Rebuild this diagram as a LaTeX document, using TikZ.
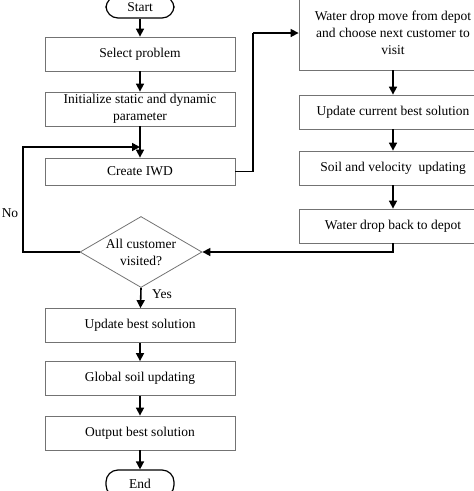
\documentclass[tikz,border=0pt]{standalone}
\usepackage{fontspec}
\setmainfont{Liberation Serif}
\usetikzlibrary{arrows.meta,shapes.geometric}
\begin{document}
\begin{tikzpicture}[x=1pt,y=-1pt,
  every node/.style={font=\fontsize{13.5}{17}\selectfont, inner sep=0pt},
  box/.style={draw=black!55, line width=0.8pt, minimum width=190pt, minimum height=34pt, align=center},
  term/.style={draw=black, line width=1.2pt, rounded corners=12pt, minimum width=68pt, minimum height=27pt},
  dec/.style={draw=black!55, line width=0.8pt, diamond, aspect=1.72, minimum width=122pt, minimum height=71pt, align=center},
  conn/.style={draw=black, line width=1.6pt, -{Triangle[length=8pt,width=8pt]}},
  line/.style={draw=black, line width=1.6pt}]
\clip (0,0) rectangle (474,491);
\useasboundingbox (0,0) rectangle (474,491);
% left column
\node[term, minimum height=22pt] (start) at (140,7) {Start};
\node[box] (select) at (140,54) {Select problem};
\node[box] (init) at (140,109) {Initialize static and dynamic\\parameter};
\node[box, minimum height=27pt] (create) at (140,171.5) {Create IWD};
\node[dec] (dec) at (141,252) {All customer\\visited?};
\node[box] (upbest) at (140,325.5) {Update best solution};
\node[box] (glob) at (140,378.5) {Global soil updating};
\node[box] (out) at (140,433) {Output best solution};
\node[term] (end) at (140,483.5) {End};
% right column
\node[box, minimum width=188pt, minimum height=74pt] (wmove) at (393,33) {Water drop move from depot\\and choose next customer to\\visit};
\node[box, minimum width=188pt] (ucur) at (393,112) {Update current best solution};
\node[box, minimum width=188pt] (soil) at (393,168) {Soil and velocity~ updating};
\node[box, minimum width=188pt] (wback) at (393,226) {Water drop back to depot};
% labels
\node (no) at (10,213) {No};
\node (yes) at (162,294) {Yes};
% coordinates
\coordinate (j) at (140,147);
\coordinate (l1) at (23,252);
\coordinate (l2) at (23,147);
\coordinate (r1) at (253,171.5);
\coordinate (r2) at (253,33);
\coordinate (b1) at (393,252);
% connectors
\draw[conn] (start) -- (select);
\draw[conn] (select) -- (init);
\draw[conn] (init) -- (create);
\draw[conn] (dec.west) -- (l1) -- (l2) -- (j);
\draw[line] (create.east) -- (r1) -- (r2);
\draw[conn] (r2) -- (wmove.west);
\draw[conn] (wmove) -- (ucur);
\draw[conn] (ucur) -- (soil);
\draw[conn] (soil) -- (wback);
\draw[conn] (wback.south) -- (b1) -- (dec.east);
\draw[conn] (dec.south) -- (upbest);
\draw[conn] (upbest) -- (glob);
\draw[conn] (glob) -- (out);
\draw[conn] (out) -- (end);
\end{tikzpicture}
\end{document}
